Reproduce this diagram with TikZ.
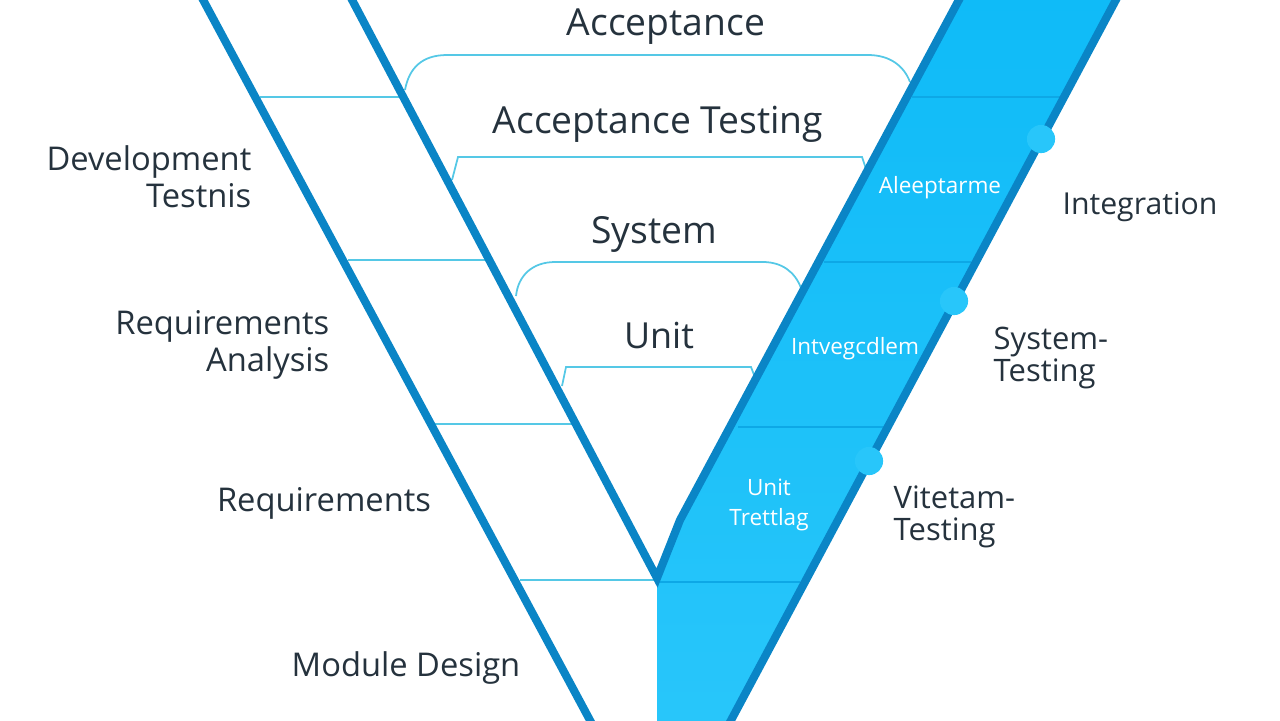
\documentclass[tikz,border=0pt]{standalone}
\usepackage{fontspec}
\setmainfont{Open Sans}
\definecolor{vdark}{HTML}{0A85C6}
\definecolor{vfilltop}{HTML}{0FBBF8}
\definecolor{vfillbot}{HTML}{28C6FA}
\definecolor{vrule}{HTML}{55C8E6}
\definecolor{vtext}{HTML}{25323D}
\begin{document}
\begin{tikzpicture}[x=0.01cm,y=-0.01cm]
  \tikzstyle{vline}=[draw=vdark,line width=2.3pt]
  \tikzstyle{rung}=[draw=vrule,line width=0.5pt]
  \tikzstyle{seam}=[draw=vdark!35!vfilltop,line width=0.4pt]
  \tikzstyle{dot}=[circle,fill=vfillbot,minimum size=8pt,inner sep=0pt]
  \tikzstyle{big}=[text=vtext,font=\fontsize{10.6}{12}\selectfont,inner sep=0pt]
  \tikzstyle{side}=[text=vtext,font=\fontsize{9.3}{10.4}\selectfont,inner sep=0pt]
  \tikzstyle{sideR}=[text=vtext,font=\fontsize{8.8}{9.2}\selectfont,inner sep=0pt]
  \tikzstyle{inner}=[text=white,font=\fontsize{6.4}{8.6}\selectfont,inner sep=0pt]
  \useasboundingbox (0,0) rectangle (1280,720);
  % band
  \shade[top color=vfilltop,bottom color=vfillbot] (962,-4) -- (680,520) -- (657,580) -- (657,724) -- (728,724) -- (1119,-4) -- cycle;
  % corners of the V
  \coordinate (outerA) at (201,-4);
  \coordinate (outerB) at (592,724);
  \coordinate (innerA) at (350,-4);
  \coordinate (tip) at (657,578);
  \coordinate (bendR) at (680,520);
  \coordinate (bandA) at (961,-4);
  \coordinate (edgeA) at (1118,-4);
  \coordinate (edgeB) at (729,724);
  % rungs
  \coordinate (r1a) at (260,97);   \coordinate (r1b) at (402,97);
  \coordinate (r2a) at (348,260);  \coordinate (r2b) at (487,260);
  \coordinate (r3a) at (435,424);  \coordinate (r3b) at (572,424);
  \coordinate (r4a) at (520,580);  \coordinate (r4b) at (655,580);
  \draw[rung] (r1a) -- (r1b);
  \draw[rung] (r2a) -- (r2b);
  \draw[rung] (r3a) -- (r3b);
  \draw[rung] (r4a) -- (r4b);
  % seams of the band
  \coordinate (s1a) at (912,97);   \coordinate (s1b) at (1060,97);
  \coordinate (s2a) at (824,262);  \coordinate (s2b) at (971,262);
  \coordinate (s3a) at (738,427);  \coordinate (s3b) at (884,427);
  \coordinate (s4a) at (657,582);  \coordinate (s4b) at (800,582);
  \draw[seam] (s1a) -- (s1b);
  \draw[seam] (s2a) -- (s2b);
  \draw[seam] (s3a) -- (s3b);
  \draw[seam] (s4a) -- (s4b);
  % brackets
  \coordinate (b1a) at (405,90);  \coordinate (b1b) at (910,82);
  \coordinate (b2a) at (452,180); \coordinate (b2b) at (867,172);
  \coordinate (b3a) at (516,296); \coordinate (b3b) at (801,288);
  \coordinate (b4a) at (562,386); \coordinate (b4b) at (756,380);
  \draw[rung] (b1a) .. controls (409,68) and (422,55) .. (447,55) -- (868,55) .. controls (890,55) and (904,66) .. (b1b);
  \draw[rung] (b2a) -- (458,157) -- (862,157) -- (b2b);
  \draw[rung] (b3a) .. controls (518,276) and (532,262) .. (555,262) -- (763,262) .. controls (782,262) and (795,272) .. (b3b);
  \draw[rung] (b4a) -- (566,367) -- (751,367) -- (b4b);
  % the V
  \draw[vline] (outerA) -- (outerB);
  \draw[vline] (innerA) -- (tip) -- (bendR) -- (bandA);
  \draw[vline] (edgeA) -- (edgeB);
  % dots
  \node[dot] (dotA) at (1041,139) {};
  \node[dot] (dotB) at (954,301) {};
  \node[dot] (dotC) at (869,461) {};
  % middle
  \node[big] (accept) at (666,27) {Acceptance};
  \node[big] (acctest) at (658,124) {Acceptance Testing};
  \node[big] (system) at (654,234) {System};
  \node[big,font=\fontsize{10.2}{12}\selectfont] (unit) at (659,335) {Unit};
  % left
  \node[side,align=right,anchor=east] (devtest) at (252,177) {Development\\Testnis};
  \node[side,align=right,anchor=east] (reqana) at (330,345) {Requirements\\Analysis};
  \node[side] (req) at (324,503) {Requirements};
  \node[side] (module) at (406,668) {Module Design};
  % right
  \node[side,font=\fontsize{8.6}{10}\selectfont] (integ) at (1140,207) {Integration};
  \node[sideR,align=left,anchor=west] (systest) at (993,358) {System-\\Testing};
  \node[sideR,align=left,anchor=west] (vitest) at (893,517) {Vitetam-\\Testing};
  % in the band
  \node[inner] (accin) at (940,188) {Aleeptarme};
  \node[inner] (intin) at (855,349) {Intvegcdlem};
  \node[inner,align=center] (unitin) at (769,505) {Unit\\Trettlag};
\end{tikzpicture}
\end{document}
